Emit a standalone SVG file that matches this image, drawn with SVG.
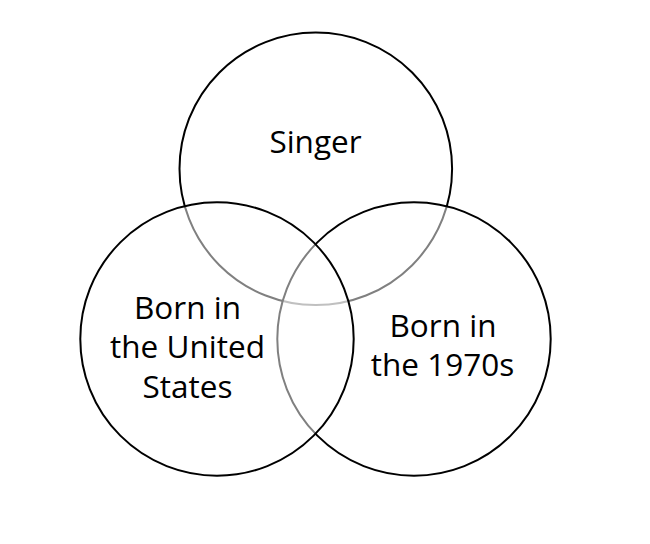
<svg xmlns="http://www.w3.org/2000/svg" width="650" height="544" viewBox="0 0 650 544">
<style>
.set{fill:#ffffff;fill-opacity:0.5;stroke:#000000;stroke-width:2}
.lbl{font-family:"Open Sans","Liberation Sans",sans-serif;font-size:31.5px;fill:#000000;text-anchor:middle}
</style>
<rect width="650" height="544" fill="#ffffff"/>
<g id="singer">
<circle class="set" cx="315.8" cy="168.8" r="136.3"/>
<text class="lbl" x="315.5" y="152.5">Singer</text>
</g>
<g id="born-1970s">
<circle class="set" cx="414" cy="339" r="136.7"/>
<text class="lbl" x="443" y="337">Born in</text>
<text class="lbl" x="442.5" y="376">the 1970s</text>
</g>
<g id="born-us">
<circle class="set" cx="217" cy="339" r="136.7"/>
<text class="lbl" x="187.5" y="319">Born in</text>
<text class="lbl" x="187.5" y="358.3">the United</text>
<text class="lbl" x="187.5" y="397.7">States</text>
</g>
<g id="connectors"/>
</svg>
